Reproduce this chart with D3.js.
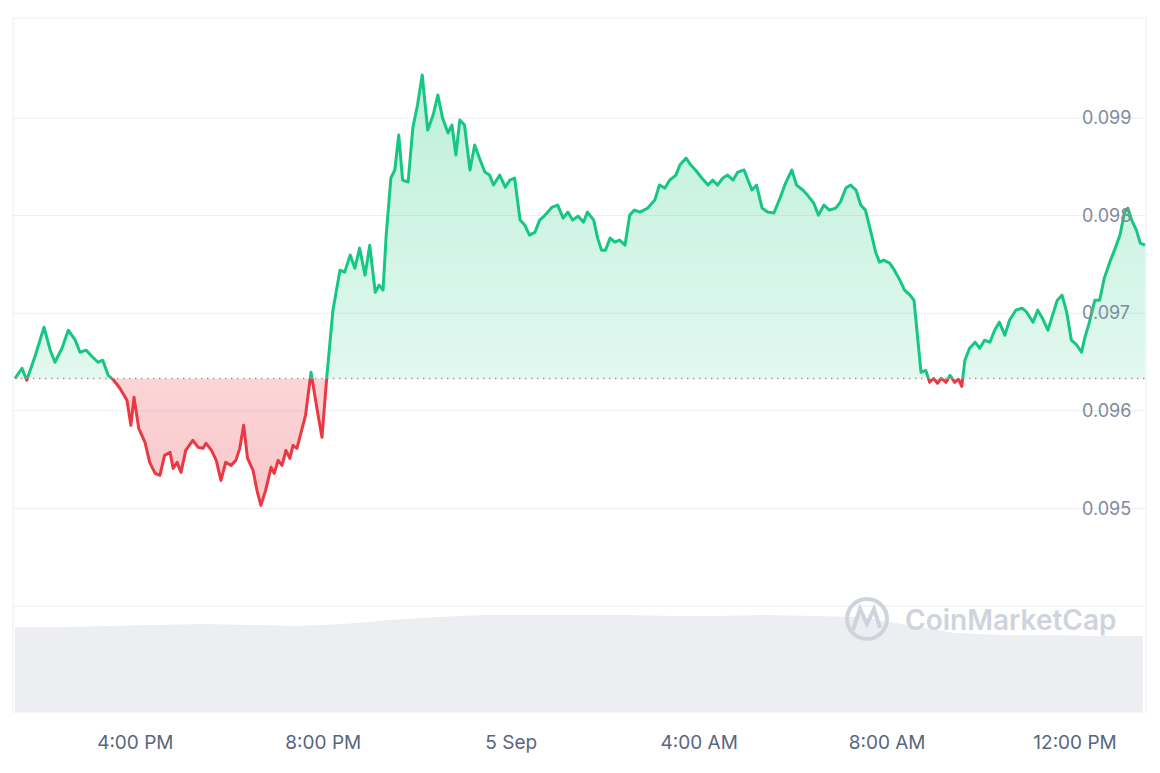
<!DOCTYPE html>
<html><head><meta charset="utf-8">
<script src="https://cdn.jsdelivr.net/npm/d3@7"></script>
<style>body{margin:0;background:#fff;font-family:Inter,"Noto Sans",sans-serif}</style>
</head><body><svg id="c" width="1160" height="773"></svg>
<script>
// minutes since start (4 Sep 13:27)
const minutes=[0,9,15,26,37,45,51,60,68,77,83,91,98,106,112,119,125,134,143,148,152,158,166,172,179,185,191,198,202,207,212,218,227,234,240,244,251,257,263,269,276,282,287,292,297,304,309,314,320,327,331,336,341,346,351,355,360,366,371,378,386,392,398,406,415,421,428,434,440,447,453,460,465,470,474,480,485,490,495,502,508,514,520,527,534,540,546,553,558,563,568,574,581,587,594,600,606,611,619,626,632,638,645,651,657,664,670,677,686,693,700,706,712,719,726,731,739,744,749,754,760,766,772,779,785,791,798,808,817,823,830,836,844,849,857,863,869,877,885,891,897,904,910,917,923,931,936,941,947,954,961,969,977,984,992,998,1006,1012,1020,1026,1033,1040,1048,1054,1061,1067,1074,1080,1086,1093,1099,1104,1109,1117,1123,1130,1136,1143,1148,1153,1157,1163,1168,1173,1178,1183,1189,1194,1200,1205,1209,1213,1219,1226,1232,1238,1245,1251,1257,1264,1270,1278,1286,1292,1300,1306,1312,1319,1325,1331,1337,1343,1349,1356,1362,1366,1372,1379,1385,1391,1398,1404,1411,1417,1421,1426,1432,1437,1443];
const prices=[96333,96436,96313,96569,96856,96621,96497,96641,96826,96723,96600,96621,96559,96497,96518,96364,96323,96231,96108,95851,96139,95821,95677,95472,95359,95339,95544,95574,95410,95472,95369,95595,95698,95626,95615,95667,95595,95492,95287,95472,95441,95492,95615,95851,95513,95390,95185,95031,95185,95421,95359,95492,95441,95595,95513,95646,95615,95800,95954,96395,96005,95728,96333,97031,97441,97421,97595,97462,97667,97390,97697,97215,97287,97236,97800,98385,98467,98826,98364,98344,98897,99133,99441,98877,99031,99236,99000,98846,98928,98621,98979,98928,98467,98723,98569,98446,98415,98313,98415,98292,98364,98385,97954,97903,97800,97831,97954,98005,98087,98108,97974,98036,97954,97995,97933,98036,97954,97769,97646,97646,97769,97728,97749,97697,98005,98056,98036,98077,98159,98313,98282,98364,98415,98518,98590,98518,98467,98385,98313,98364,98313,98385,98415,98364,98446,98467,98364,98262,98313,98077,98036,98026,98180,98333,98467,98313,98262,98210,98128,98005,98108,98056,98077,98138,98282,98313,98262,98108,98056,97831,97626,97523,97544,97513,97441,97339,97236,97185,97133,96723,96395,96415,96292,96333,96282,96333,96292,96364,96292,96323,96251,96518,96641,96703,96641,96723,96703,96826,96908,96774,96928,97031,97051,97010,96908,97031,96949,96826,96980,97133,97185,97010,96723,96672,96600,96744,96908,97133,97133,97359,97523,97646,97800,98036,98077,97954,97851,97718,97697].map(v=>v/1e6);
const volHours=[0,1,2,3,4,5,6,7,8,9,10,11,12,13,14,15,16,17,18,19,20,21,22,23,24];
const volumes=[85,85,86,87,88,87,86,88,92,95,97,97,97,97,96,96,97,96,95,87,79,77,77,76,76];
const yTicks=[0.095,0.096,0.097,0.098,0.099];
const baseline=0.09633;
const start=new Date(2023,8,4,13,27);
const tickTimes=[new Date(2023,8,4,16),new Date(2023,8,4,20),new Date(2023,8,5,0),new Date(2023,8,5,4),new Date(2023,8,5,8),new Date(2023,8,5,12)];
const tickLabels=["4:00 PM","8:00 PM","5 Sep","4:00 AM","8:00 AM","12:00 PM"];

const svg=d3.select("#c");
const data=minutes.map((m,i)=>({t:new Date(+start+m*60000),p:prices[i]}));
const x=d3.scaleTime().domain([start,new Date(+start+1443*60000)]).range([15,1145]);
const y=d3.scaleLinear().domain([0.094,0.099]).range([606,118]);
const yv=d3.scaleLinear().domain([0,100]).range([712,612]);

svg.append("line").attr("x1",13).attr("x2",13).attr("y1",18).attr("y2",712).attr("stroke","#eceef2");
svg.append("line").attr("x1",13).attr("x2",1146).attr("y1",18).attr("y2",18).attr("stroke","#eceef2");
svg.append("line").attr("x1",1146).attr("x2",1146).attr("y1",18).attr("y2",712).attr("stroke","#eceef2");
[0.094,...yTicks].forEach(v=>svg.append("line").attr("x1",13).attr("x2",1146).attr("y1",y(v)).attr("y2",y(v)).attr("stroke","#eceef2"));
const vd=volHours.map((h,i)=>({t:new Date(+start+h*3600000),v:volumes[i]}));
svg.append("path").datum(vd).attr("fill","#eceef2")
 .attr("d",d3.area().x(d=>x(d.t)).y0(712).y1(d=>yv(d.v)));
svg.append("line").attr("x1",13).attr("x2",1146).attr("y1",712).attr("y2",712).attr("stroke","#eceef2");

const wm=svg.append("g").attr("fill","none").attr("stroke","#cfd4dc").attr("stroke-width",4);
wm.append("circle").attr("cx",867).attr("cy",619).attr("r",20);
wm.append("path").attr("d","M853,630 L860,609 L867,624 L874,609 L880,628");
svg.append("text").attr("x",905).attr("y",630).attr("fill","#cfd4dc").attr("font-size",28).attr("font-weight",600).text("CoinMarketCap");

const defs=svg.append("defs");
const gg=defs.append("linearGradient").attr("id","gg").attr("x1",0).attr("x2",0).attr("y1",0).attr("y2",1);
gg.append("stop").attr("offset","0%").attr("stop-color","#16c784").attr("stop-opacity",0.28);
gg.append("stop").attr("offset","100%").attr("stop-color","#16c784").attr("stop-opacity",0.06);
const rg=defs.append("linearGradient").attr("id","rg").attr("x1",0).attr("x2",0).attr("y1",1).attr("y2",0);
rg.append("stop").attr("offset","0%").attr("stop-color","#ea3943").attr("stop-opacity",0.28);
rg.append("stop").attr("offset","100%").attr("stop-color","#ea3943").attr("stop-opacity",0.06);
defs.append("clipPath").attr("id","above").append("rect").attr("x",0).attr("y",0).attr("width",1160).attr("height",y(baseline));
defs.append("clipPath").attr("id","below").append("rect").attr("x",0).attr("y",y(baseline)).attr("width",1160).attr("height",773);

const area=d3.area().x(d=>x(d.t)).y0(y(baseline)).y1(d=>y(d.p));
const line=d3.line().x(d=>x(d.t)).y(d=>y(d.p));
svg.append("path").datum(data).attr("d",area).attr("fill","url(#gg)").attr("clip-path","url(#above)");
svg.append("path").datum(data).attr("d",area).attr("fill","url(#rg)").attr("clip-path","url(#below)");
svg.append("line").attr("x1",15).attr("x2",1145).attr("y1",y(baseline)).attr("y2",y(baseline))
 .attr("stroke","#9aa0ab").attr("stroke-width",1.5).attr("stroke-dasharray","1.5,4.5");
svg.append("path").datum(data).attr("d",line).attr("fill","none").attr("stroke","#16c784").attr("stroke-width",3).attr("stroke-linejoin","round").attr("clip-path","url(#above)");
svg.append("path").datum(data).attr("d",line).attr("fill","none").attr("stroke","#ea3943").attr("stroke-width",3).attr("stroke-linejoin","round").attr("clip-path","url(#below)");

const ya=svg.append("g").attr("transform","translate(1082,0)").call(d3.axisRight(y).tickValues(yTicks).tickSize(0).tickFormat(d3.format(".3f")));
ya.select(".domain").remove();
ya.selectAll("text").attr("x",0).attr("font-size",18).attr("fill","#808a9d").attr("font-family","Inter,'Noto Sans',sans-serif");
const xa=svg.append("g").attr("transform","translate(0,732)").call(d3.axisBottom(x).tickValues(tickTimes).tickSize(0).tickFormat((d,i)=>tickLabels[i]));
xa.select(".domain").remove();
xa.selectAll("text").attr("font-size",19).attr("fill","#58667e").attr("font-family","Inter,'Noto Sans',sans-serif");
</script></body></html>
